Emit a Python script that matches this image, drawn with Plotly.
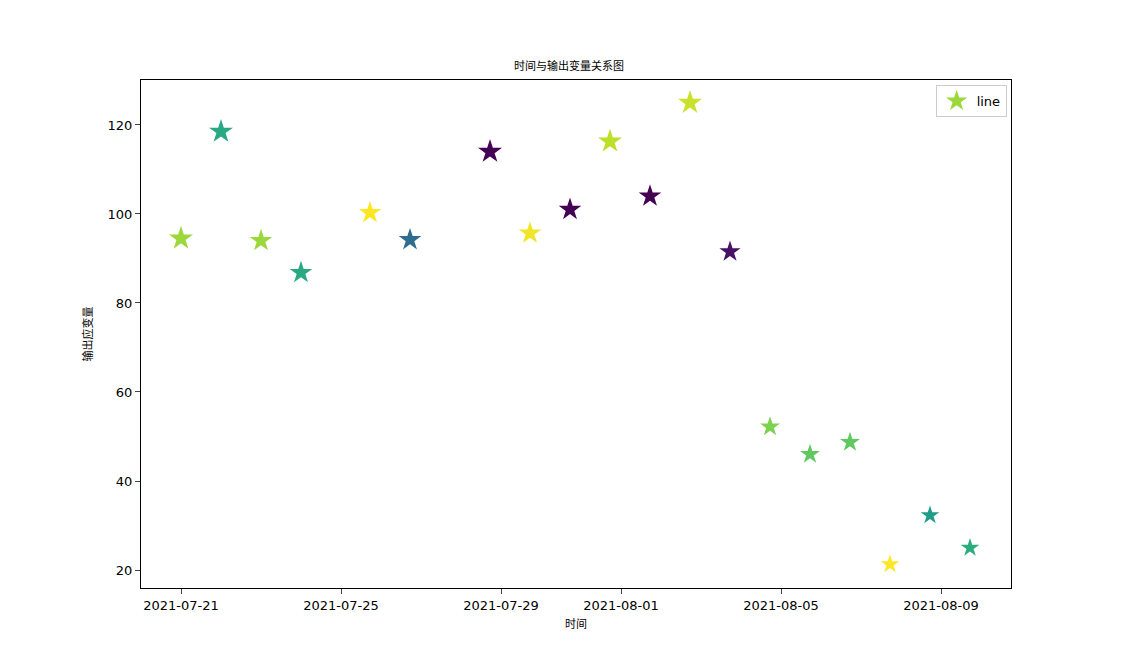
import plotly.graph_objects as go

dates = ["2021-07-21 00:00","2021-07-22 00:00","2021-07-23 00:00","2021-07-24 00:00",
         "2021-07-25 17:24","2021-07-26 17:24","2021-07-28 17:24","2021-07-29 17:24",
         "2021-07-30 17:24","2021-07-31 17:24","2021-08-01 17:24","2021-08-02 17:24",
         "2021-08-03 17:24","2021-08-04 17:24","2021-08-05 17:24","2021-08-06 17:24",
         "2021-08-07 17:24","2021-08-08 17:24","2021-08-09 17:24"]
values = [94.5,118.5,94,86.8,100.3,94.2,114,95.7,101,116.3,104,125,91.5,52.2,46,48.7,21.3,32.3,25]
colors = [0.85,0.6,0.85,0.6,1.0,0.35,0.0,0.98,0.0,0.9,0.0,0.92,0.05,0.8,0.75,0.75,1.0,0.55,0.62]
sizes = [18,18,17,17,17,17,18,17,17,18,17,18,16,15,15,15,14,14,14]
ticks = ["2021-07-21","2021-07-25","2021-07-29","2021-08-01","2021-08-05","2021-08-09"]

fig = go.Figure(go.Scatter(
    x=dates, y=values, mode="markers", name="line", showlegend=True, opacity=1,
    marker=dict(symbol="star", size=sizes, color=colors, colorscale="Viridis",
                cmin=0, cmax=1, opacity=1, line=dict(width=0))))
fig.update_layout(
    width=1122, height=659, paper_bgcolor="white", plot_bgcolor="white",
    margin=dict(l=133, r=119, t=72, b=79),
    font=dict(family="Noto Sans CJK SC, DejaVu Sans", size=13, color="black"),
    title=dict(text="时间与输出变量关系图", x=0.5, xanchor="center", y=1-58/659, yanchor="middle",
               font=dict(size=11)),
    showlegend=True,
    legend=dict(x=0.995, y=0.99, xanchor="right", yanchor="top", bordercolor="#cccccc",
                borderwidth=1, font=dict(size=13, family="DejaVu Sans")),
)
fig.update_xaxes(range=["2021-07-20 00:00","2021-08-10 18:00"], tickvals=ticks, ticktext=ticks,
                 showgrid=False, showline=True, linecolor="black", mirror=True, ticks="outside",
                 tickfont=dict(family="DejaVu Sans", size=13),
                 title=dict(text="时间", font=dict(size=11), standoff=8), zeroline=False)
fig.update_yaxes(range=[15.96,130.1], tickvals=[20,40,60,80,100,120], showgrid=False,
                 showline=True, linecolor="black", mirror=True, ticks="outside",
                 tickfont=dict(family="DejaVu Sans", size=13),
                 title=dict(text="输出应变量", font=dict(size=11), standoff=12), zeroline=False)
fig.write_html("out.html")
